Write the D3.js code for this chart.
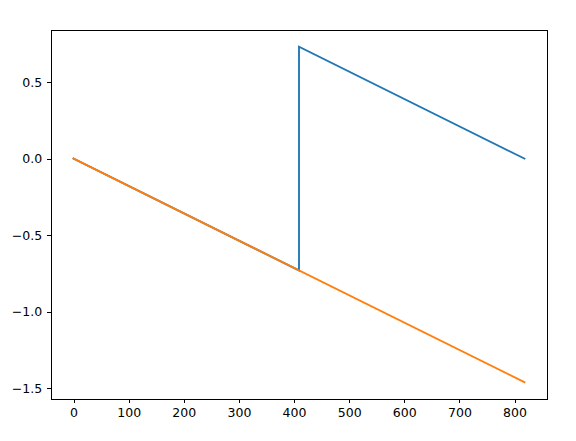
<!DOCTYPE html>
<html>
<head>
<meta charset="utf-8">
<script src="https://cdn.jsdelivr.net/npm/d3@7"></script>
<style>
  body { margin: 0; background: #fff; }
  .tick text { font-family: "DejaVu Sans", sans-serif; font-size: 12.5px; fill: #000; }
  .tick line { stroke: #000; stroke-width: 1px; shape-rendering: crispEdges; }
</style>
</head>
<body>
<div id="chart"></div>
<script>
var svgWidth = 576;
var svgHeight = 441;

var margin = { top: 30, right: 29, bottom: 42, left: 51 };

var width = svgWidth - margin.left - margin.right;
var height = svgHeight - margin.top - margin.bottom;

// series data
var blueX = [0, 409, 409, 818];
var blueY = [0, -0.73, 0.73, 0];
var orangeX = [0, 818];
var orangeY = [0, -1.46];

var xTicks = [0, 100, 200, 300, 400, 500, 600, 700, 800];
var yTicks = [-1.5, -1.0, -0.5, 0.0, 0.5];

var svg = d3.select("#chart")
  .append("svg")
  .attr("width", svgWidth)
  .attr("height", svgHeight);

var chartGroup = svg.append("g")
  .attr("transform", `translate(${margin.left}, ${margin.top})`);

// matplotlib-style 5% padding around the data
var allX = blueX.concat(orangeX);
var allY = blueY.concat(orangeY);
var xMin = d3.min(allX), xMax = d3.max(allX);
var yMin = d3.min(allY), yMax = d3.max(allY);
var xPad = (xMax - xMin) * 0.05;
var yPad = (yMax - yMin) * 0.05;

var xScale = d3.scaleLinear()
  .domain([xMin - xPad, xMax + xPad])
  .range([0, width]);

var yScale = d3.scaleLinear()
  .domain([yMin - yPad, yMax + yPad])
  .range([height, 0]);

var bottomAxis = d3.axisBottom(xScale)
  .tickValues(xTicks)
  .tickFormat(d3.format("d"))
  .tickSize(4.4)
  .tickPadding(4.4);

var leftAxis = d3.axisLeft(yScale)
  .tickValues(yTicks)
  .tickFormat(d3.format(".1f"))
  .tickSize(4.4)
  .tickPadding(4.4);

var line = d3.line()
  .x(d => xScale(d[0]))
  .y(d => yScale(d[1]));

var blueData = blueX.map((x, i) => [x, blueY[i]]);
var orangeData = orangeX.map((x, i) => [x, orangeY[i]]);

chartGroup.append("path")
  .datum(blueData)
  .attr("d", line)
  .attr("fill", "none")
  .attr("stroke", "#1f77b4")
  .attr("stroke-width", 1.875)
  .attr("stroke-linecap", "square");

chartGroup.append("path")
  .datum(orangeData)
  .attr("d", line)
  .attr("fill", "none")
  .attr("stroke", "#ff7f0e")
  .attr("stroke-width", 1.875)
  .attr("stroke-linecap", "square");

var xAxisG = chartGroup.append("g")
  .attr("transform", `translate(0, ${height})`)
  .call(bottomAxis);

var yAxisG = chartGroup.append("g")
  .call(leftAxis);

xAxisG.select(".domain").remove();
yAxisG.select(".domain").remove();

// axes frame
chartGroup.append("rect")
  .attr("x", 0)
  .attr("y", 0)
  .attr("width", width)
  .attr("height", height)
  .attr("fill", "none")
  .attr("stroke", "#000")
  .attr("stroke-width", 1)
  .attr("shape-rendering", "crispEdges");
</script>
</body>
</html>
